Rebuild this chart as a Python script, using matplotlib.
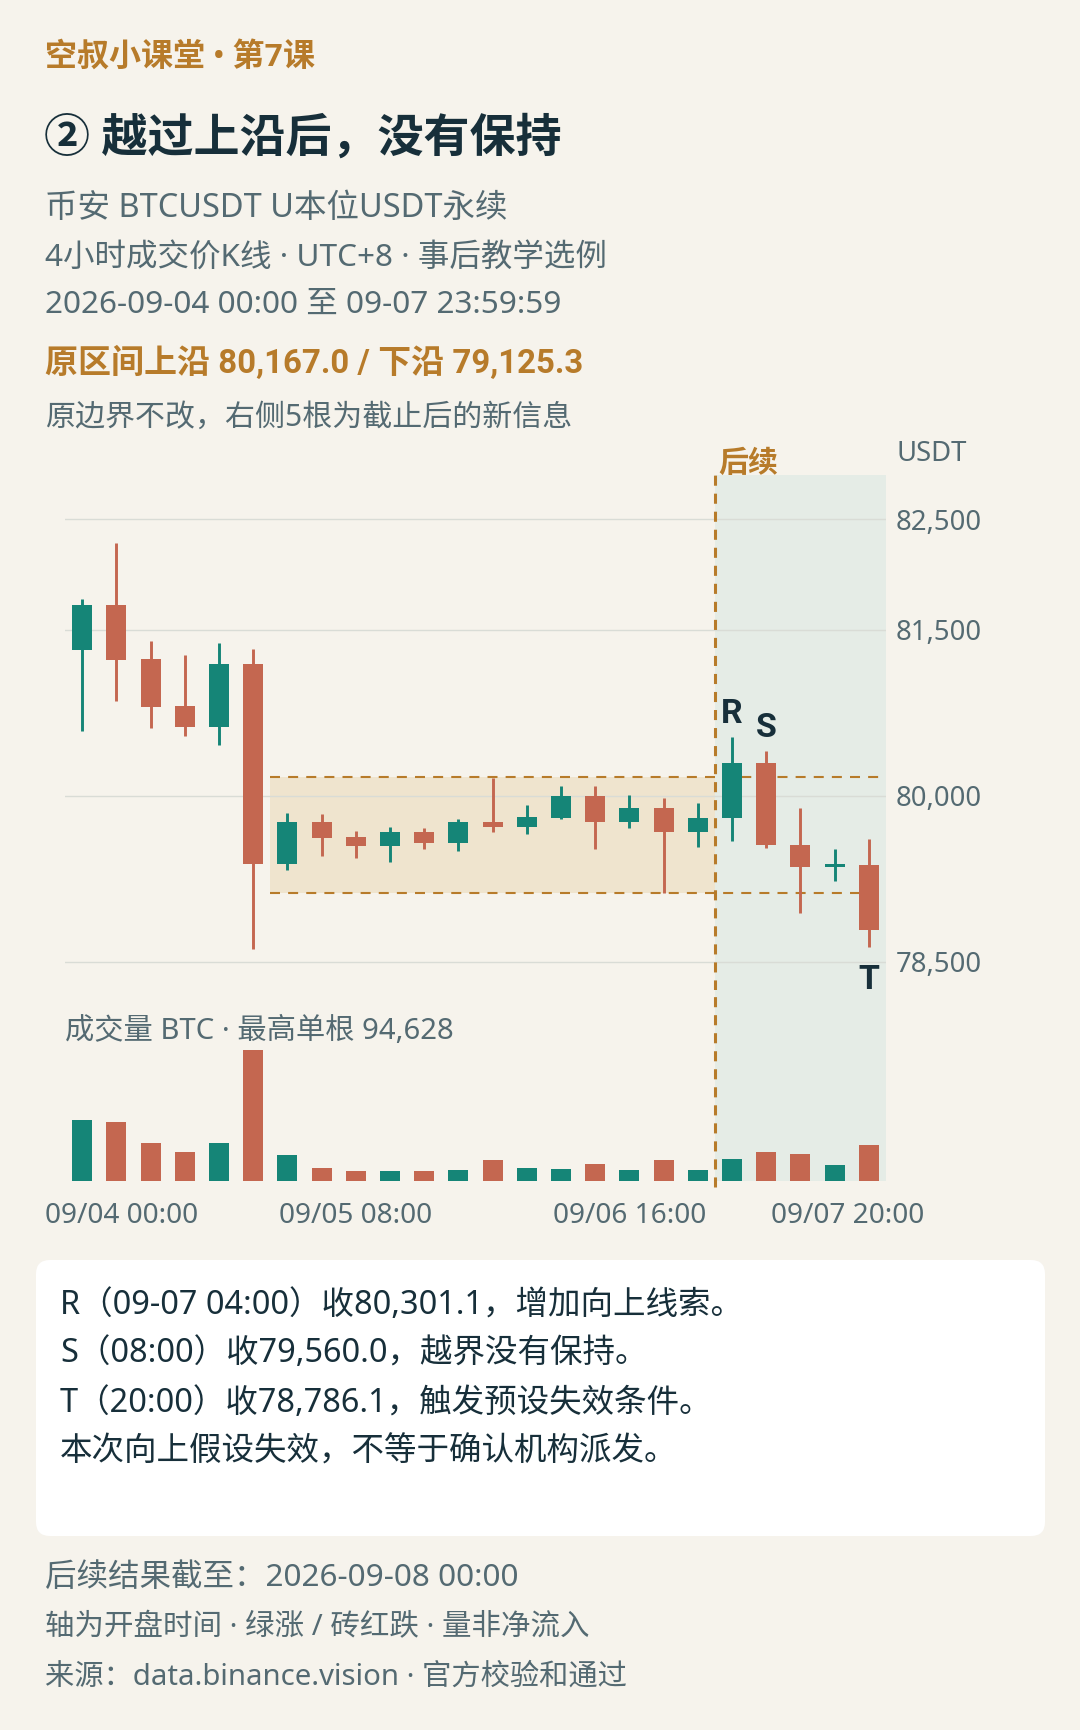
import numpy as np
import matplotlib
matplotlib.use("Agg")
import matplotlib.pyplot as plt
from matplotlib.patches import FancyBboxPatch
from matplotlib.transforms import blended_transform_factory, offset_copy

# Latin glyphs from Noto Sans, CJK falls through to Noto Sans CJK SC
plt.rcParams['font.family'] = ['Noto Sans', 'Noto Sans CJK SC', 'DejaVu Sans']
BOLD_FAM = ['Roboto', 'Noto Sans CJK SC', 'DejaVu Sans']

# ---- data (4h candles, 09/04 00:00 .. 09/07 20:00) ----
opens = [81320, 81724, 81236, 80810, 80623, 81191, 79384, 79761, 79625, 79546, 79679, 79574,
         79761, 79718, 79800, 79996, 79764, 79887, 79673, 79804, 80301.1, 79560, 79358, 79379]
highs = [81779, 82286, 81399, 81272, 81381, 81326, 79842, 79833, 79688, 79724, 79715, 79788,
         80160, 79914, 80086, 80086, 80005, 79978, 79939, 80536, 80409, 79894, 79524, 79614]
lows = [80587, 80859, 80614, 80542, 80461, 78614, 79329, 79456, 79438, 79402, 79519, 79501,
        79673, 79655, 79791, 79519, 79709, 79125, 79536, 79596, 79527, 78940, 79229, 78632]
closes = [81724, 81230, 80804, 80623, 81191, 79384, 79761, 79619, 79546, 79679, 79574, 79761,
          79718, 79806, 79996, 79764, 79887, 79673, 79804, 80301.1, 79560.0, 79355, 79370, 78786.1]
volumes = [44065, 42619, 27450, 20948, 27450, 94628, 18781, 9391, 7224, 7224, 7224, 7946,
           15170, 9391, 8668, 12280, 7946, 15170, 7946, 15892, 20948, 19504, 11558, 26005]

upper_edge = 80167.0
lower_edge = 79125.3
n_before = 19          # candles up to the cutoff, the rest is "后续"
price_ticks = [78500, 80000, 81500, 82500]
time_ticks = [0, 8, 16, 23]
time_labels = ['09/04 00:00', '09/05 08:00', '09/06 16:00', '09/07 20:00']
marks = {19: ('R', 'high'), 20: ('S', 'high'), 23: ('T', 'low')}

# colours
BG = '#f6f3ec'
GREEN = '#158577'
RED = '#c46750'
GOLD = '#b77b2a'
NAVY = '#172f3a'
GRAY = '#546a72'
BAND = '#efe4ce'
SHADE = '#e5ece6'
GRID = '#d9dcd6'

W, H = 1080, 1730
fig = plt.figure(figsize=(W / 100, H / 100), dpi=100, facecolor=BG)


def fx(x):
    return x / W


def fy(y):
    return 1 - y / H


def px(p):  # pixel font size -> points
    return p * 0.72


# ---- header texts ----
fig.text(fx(45), fy(56), '空叔小课堂 • 第7课', color=GOLD, fontsize=px(32), fontweight='bold',
         family=BOLD_FAM, va='center')
fig.text(fx(44), fy(138), '② 越过上沿后，没有保持', color=NAVY, fontsize=px(46), fontweight='bold',
         family=BOLD_FAM, va='center')
fig.text(fx(45), fy(208), '币安 BTCUSDT U本位USDT永续', color=GRAY, fontsize=px(32.5), va='center')
fig.text(fx(45), fy(258), '4小时成交价K线 · UTC+8 · 事后教学选例', color=GRAY, fontsize=px(31.5), va='center')
fig.text(fx(45), fy(305), '2026-09-04 00:00 至 09-07 23:59:59', color=GRAY, fontsize=px(31.5), va='center')
fig.text(fx(45), fy(363), f'原区间上沿 {upper_edge:,.1f} / 下沿 {lower_edge:,.1f}', color=GOLD,
         fontsize=px(33), fontweight='bold', family=BOLD_FAM, va='center')
fig.text(fx(45), fy(418), '原边界不改，右侧5根为截止后的新信息', color=GRAY, fontsize=px(30), va='center')

# ---- price panel ----
x = np.arange(len(opens))
o = np.array(opens, dtype=float)
c = np.array(closes, dtype=float)
hi = np.array(highs, dtype=float)
lo = np.array(lows, dtype=float)
up = c >= o
cols = np.where(up, GREEN, RED)

ax_top, ax_mid, ax_bot = 474.6, 990, 1181
ax_l, ax_r = 65, 886
ax = fig.add_axes([fx(ax_l), fy(ax_mid), fx(ax_r - ax_l), (ax_mid - ax_top) / H])
ax.set_facecolor('none')
ax.set_xlim(-0.5, len(opens) - 0.5)
top_price = 82500 + (519.3 - ax_top) / 0.11067
bot_price = top_price - (ax_mid - ax_top) / 0.11067
ax.set_ylim(bot_price, top_price)

ax.axvspan(n_before - 0.5, len(opens) - 0.5, color=SHADE, zorder=0, lw=0)
ax.fill_between([5.5, n_before - 0.5], lower_edge, upper_edge, color=BAND, zorder=0.5, lw=0)
ax.set_yticks(price_ticks)
ax.set_yticklabels([f'{t:,}' for t in price_ticks])
ax.yaxis.tick_right()
ax.tick_params(axis='y', length=0, pad=7, labelsize=px(27.5), labelcolor=GRAY)
ax.tick_params(axis='x', length=0, labelbottom=False)
ax.grid(axis='y', color=GRID, lw=1.0, zorder=1)
for s in ax.spines.values():
    s.set_visible(False)

ax.hlines([upper_edge, lower_edge], 5.5, len(opens) - 0.5, colors=GOLD, lw=1.5,
          linestyles=(0, (4.8, 3.9)), zorder=2)
ax.axvline(n_before - 0.5, color=GOLD, lw=2.2, linestyle=(0, (3.3, 2.6)), zorder=2)

body_lo = np.minimum(o, c)
body_h = np.maximum(np.abs(c - o), 25)
ax.vlines(x, lo, hi, colors=cols, lw=2.1, zorder=3)
ax.bar(x, body_h, bottom=body_lo, width=0.585, color=cols, zorder=4, lw=0)

for i, (lab, side) in marks.items():
    if side == 'high':
        ax.annotate(lab, (i, hi[i]), xytext=(0, 5), textcoords='offset points', ha='center',
                    va='bottom', fontsize=px(34), fontweight='bold', family=BOLD_FAM,
                    color=NAVY, zorder=5)
    else:
        ax.annotate(lab, (i, lo[i]), xytext=(0, -12), textcoords='offset points', ha='center',
                    va='top', fontsize=px(34), fontweight='bold', family=BOLD_FAM,
                    color=NAVY, zorder=5)

tr = blended_transform_factory(ax.transData, ax.transAxes)
ax.text(n_before - 0.5, 1, '后续', transform=offset_copy(tr, fig, x=2.5, y=8, units='points'),
        ha='left', va='center', color=GOLD, fontsize=px(30), fontweight='bold', family=BOLD_FAM)
ax.text(1, 1, 'USDT', transform=offset_copy(ax.transAxes, fig, x=7.5, y=15, units='points'),
        ha='left', va='center', color=GRAY, fontsize=px(27.5))

# ---- volume panel ----
axv = fig.add_axes([fx(ax_l), fy(ax_bot), fx(ax_r - ax_l), (ax_bot - ax_mid) / H])
axv.set_facecolor('none')
axv.set_xlim(-0.5, len(opens) - 0.5)
vmax = max(volumes)
axv.set_ylim(0, vmax * (ax_bot - ax_mid) / 131)
axv.axvspan(n_before - 0.5, len(opens) - 0.5, color=SHADE, zorder=0, lw=0)
axv.axvline(n_before - 0.5, ymin=-0.03, ymax=1, color=GOLD, lw=2.2, linestyle=(0, (3.3, 2.6)),
            zorder=2, clip_on=False)
axv.bar(x, volumes, width=0.585, color=cols, zorder=3, lw=0)
axv.set_xticks([])
axv.set_yticks([])
for s in axv.spines.values():
    s.set_visible(False)
axv.text(0, (ax_bot - 1031) / (ax_bot - ax_mid), f'成交量 BTC · 最高单根 {vmax:,}', transform=axv.transAxes,
         ha='left', va='center', color=GRAY, fontsize=px(29.3))

trv = blended_transform_factory(axv.transData, axv.transAxes)
for k, (t, lab) in enumerate(zip(time_ticks, time_labels)):
    ha, dx = 'center', 0
    if k == 0:
        ha, dx = 'left', -27
    elif k == len(time_ticks) - 1:
        ha, dx = 'right', 40
    axv.text(t, 0, lab, transform=offset_copy(trv, fig, x=dx, y=-25.5, units='points'),
             ha=ha, va='center', color=GRAY, fontsize=px(28))

# ---- note card ----
card = FancyBboxPatch((0.36, (H - 1536) / 100), 10.09, 2.76, boxstyle='round,pad=0,rounding_size=0.14',
                      transform=fig.dpi_scale_trans, facecolor='white', edgecolor='none')
fig.patches.append(card)
notes = [
    f'R（09-07 04:00）收{closes[19]:,.1f}，增加向上线索。',
    f'S（08:00）收{closes[20]:,.1f}，越界没有保持。',
    f'T（20:00）收{closes[23]:,.1f}，触发预设失效条件。',
    '本次向上假设失效，不等于确认机构派发。',
]
for k, line in enumerate(notes):
    fig.text(fx(60), fy(1305 + 49 * k), line, color=NAVY, fontsize=px(32.5), va='center')

# ---- footer ----
fig.text(fx(45), fy(1578), '后续结果截至：2026-09-08 00:00', color=GRAY, fontsize=px(31.5), va='center')
fig.text(fx(45), fy(1628), '轴为开盘时间 · 绿涨 / 砖红跌 · 量非净流入', color=GRAY, fontsize=px(29.5), va='center')
fig.text(fx(45), fy(1677), '来源：data.binance.vision · 官方校验和通过', color=GRAY, fontsize=px(29.3), va='center')

fig.savefig('out.png', dpi=100, facecolor=BG)
